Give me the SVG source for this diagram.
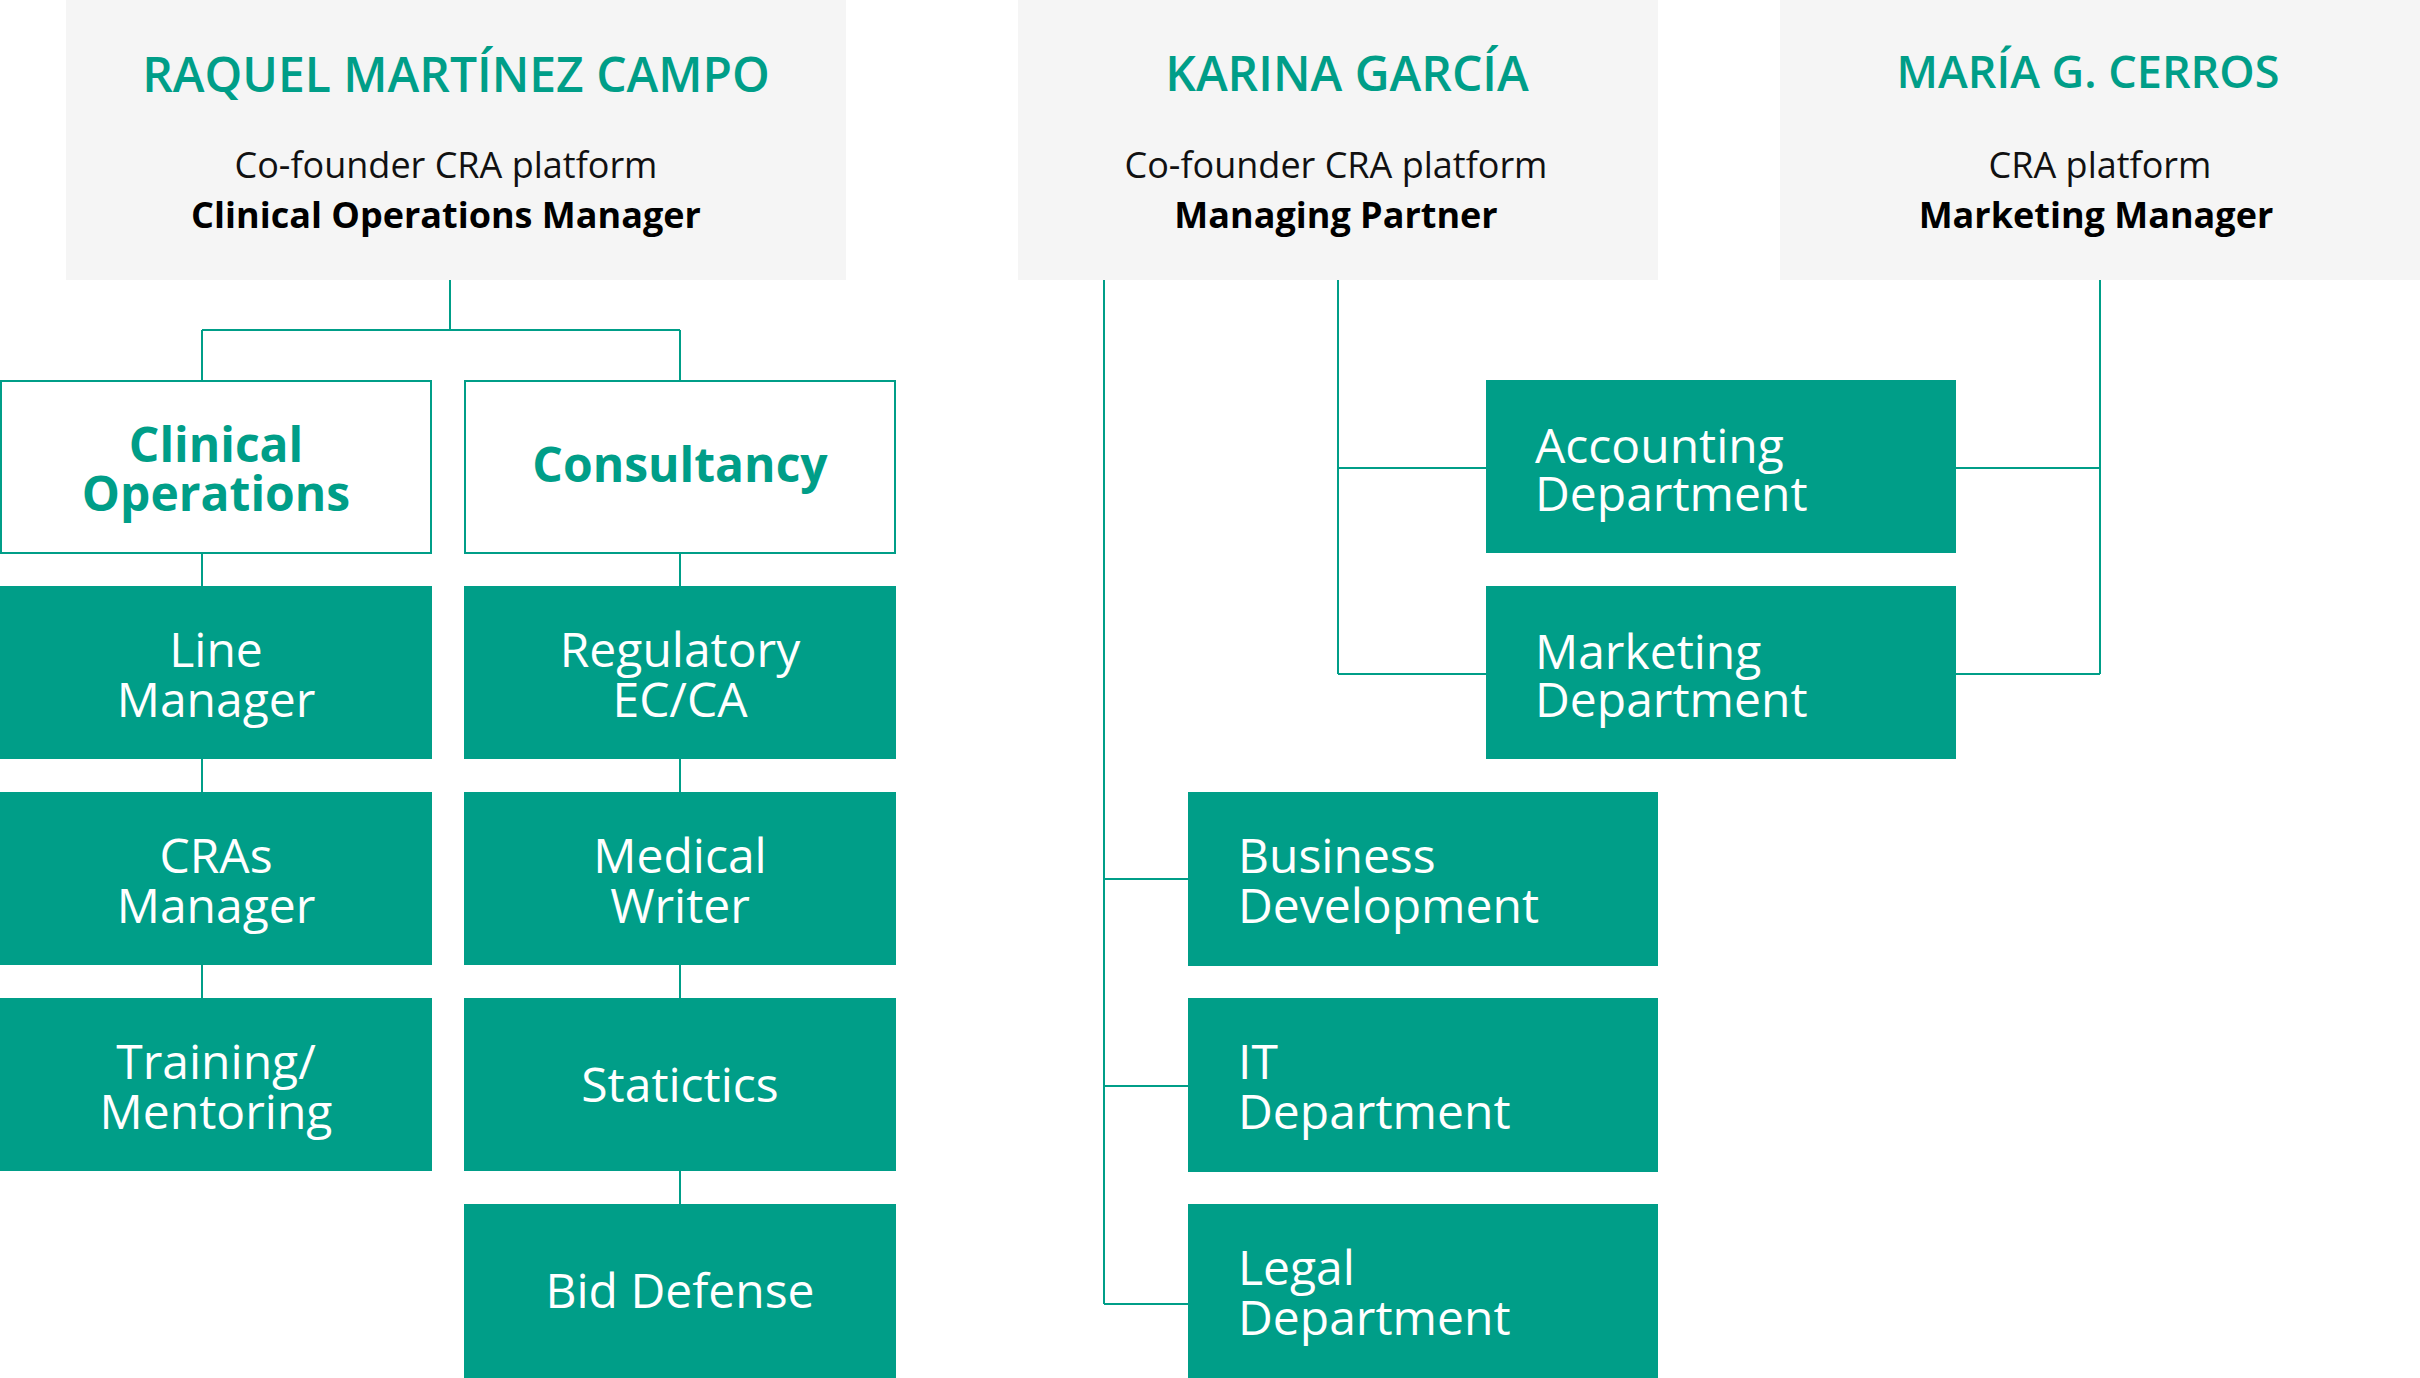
<svg xmlns="http://www.w3.org/2000/svg" width="2420" height="1378" viewBox="0 0 2420 1378">
<style>
.head{fill:#f5f5f5}
.name{font-family:"Open Sans","Noto Sans",sans-serif;font-weight:600;font-size:48px;fill:#009e88;text-anchor:middle}
.sub{font-family:"Open Sans","Noto Sans",sans-serif;font-size:36px;fill:#111;text-anchor:middle}
.subb{font-family:"Open Sans","Noto Sans",sans-serif;font-weight:700;font-size:36px;fill:#000;text-anchor:middle}
.out{fill:#fff;stroke:#009e88;stroke-width:2}
.outt{font-family:"Open Sans","Noto Sans",sans-serif;font-weight:700;font-size:48px;fill:#009e88;text-anchor:middle}
.box{fill:#009e88}
.bt{font-family:"Open Sans","Noto Sans",sans-serif;font-size:48px;fill:#fff;text-anchor:middle}
.bl{font-family:"Open Sans","Noto Sans",sans-serif;font-size:48px;fill:#fff}
.conn{fill:none;stroke:#009e88;stroke-width:2}
</style>
<rect width="2420" height="1378" fill="#fff"/>
<g id="connectors" class="conn">
<path d="M450,280V330M202,330H680M202,330V380M680,330V380"/>
<path d="M202,553V586M202,759V792M202,965V998"/>
<path d="M680,553V586M680,759V792M680,965V998M680,1171V1204"/>
<path d="M1104,280V1304M1104,879H1188M1104,1086H1188M1104,1304H1188"/>
<path d="M1338,280V674M1338,468H1486M1338,674H1486"/>
<path d="M2100,280V674M1956,468H2100M1956,674H2100"/>
</g>
<g id="raquel">
<rect class="head" x="66" y="0" width="780" height="280"/>
<text class="name" x="456" y="92">RAQUEL MARTÍNEZ CAMPO</text>
<text class="sub" x="446" y="178">Co-founder CRA platform</text>
<text class="subb" x="446" y="228">Clinical Operations Manager</text>
</g>
<g id="karina">
<rect class="head" x="1018" y="0" width="640" height="280"/>
<text class="name" x="1347" y="91">KARINA GARCÍA</text>
<text class="sub" x="1336" y="178">Co-founder CRA platform</text>
<text class="subb" x="1336" y="228">Managing Partner</text>
</g>
<g id="maria">
<rect class="head" x="1780" y="0" width="640" height="280"/>
<text class="name" x="2088" y="88" style="font-size:45px">MARÍA G. CERROS</text>
<text class="sub" x="2100" y="178">CRA platform</text>
<text class="subb" x="2096" y="228">Marketing Manager</text>
</g>
<g id="clinical-operations">
<rect class="out" x="1" y="381" width="430" height="172"/>
<text class="outt" x="216" y="462">Clinical</text>
<text class="outt" x="216" y="511">Operations</text>
</g>
<g id="consultancy">
<rect class="out" x="465" y="381" width="430" height="172"/>
<text class="outt" x="680" y="482">Consultancy</text>
</g>
<g id="line-manager">
<rect class="box" x="0" y="586" width="432" height="173"/>
<text class="bt" x="216" y="667">Line</text>
<text class="bt" x="216" y="717">Manager</text>
</g>
<g id="cras-manager">
<rect class="box" x="0" y="792" width="432" height="173"/>
<text class="bt" x="216" y="873">CRAs</text>
<text class="bt" x="216" y="923">Manager</text>
</g>
<g id="training">
<rect class="box" x="0" y="998" width="432" height="173"/>
<text class="bt" x="216" y="1079">Training/</text>
<text class="bt" x="216" y="1129">Mentoring</text>
</g>
<g id="regulatory">
<rect class="box" x="464" y="586" width="432" height="173"/>
<text class="bt" x="680" y="667">Regulatory</text>
<text class="bt" x="680" y="717">EC/CA</text>
</g>
<g id="medical-writer">
<rect class="box" x="464" y="792" width="432" height="173"/>
<text class="bt" x="680" y="873">Medical</text>
<text class="bt" x="680" y="923">Writer</text>
</g>
<g id="statictics">
<rect class="box" x="464" y="998" width="432" height="173"/>
<text class="bt" x="680" y="1102">Statictics</text>
</g>
<g id="bid-defense">
<rect class="box" x="464" y="1204" width="432" height="174"/>
<text class="bt" x="680" y="1308">Bid Defense</text>
</g>
<g id="accounting">
<rect class="box" x="1486" y="380" width="470" height="173"/>
<text class="bl" x="1535" y="463">Accounting</text>
<text class="bl" x="1535" y="511">Department</text>
</g>
<g id="marketing">
<rect class="box" x="1486" y="586" width="470" height="173"/>
<text class="bl" x="1535" y="669">Marketing</text>
<text class="bl" x="1535" y="717">Department</text>
</g>
<g id="business">
<rect class="box" x="1188" y="792" width="470" height="174"/>
<text class="bl" x="1238" y="873">Business</text>
<text class="bl" x="1238" y="923">Development</text>
</g>
<g id="it">
<rect class="box" x="1188" y="998" width="470" height="174"/>
<text class="bl" x="1238" y="1079">IT</text>
<text class="bl" x="1238" y="1129">Department</text>
</g>
<g id="legal">
<rect class="box" x="1188" y="1204" width="470" height="174"/>
<text class="bl" x="1238" y="1285">Legal</text>
<text class="bl" x="1238" y="1335">Department</text>
</g>
</svg>
